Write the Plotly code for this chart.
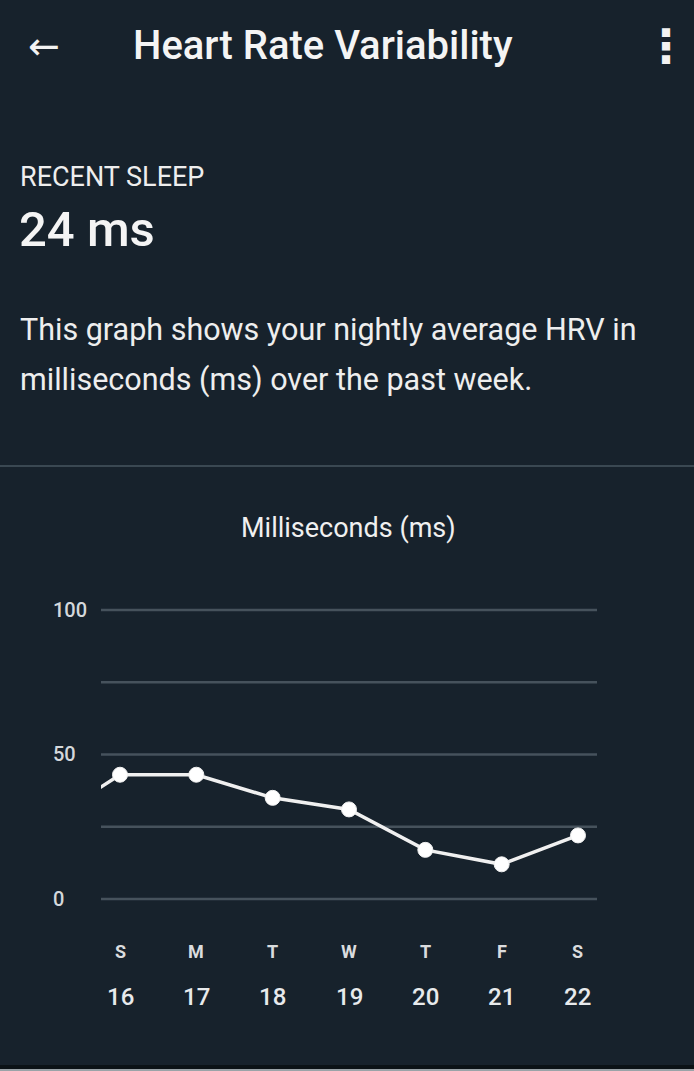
import plotly.graph_objects as go

# ---- data ----
days = [15, 16, 17, 18, 19, 20, 21, 22]
hrv_ms = [26, 43, 43, 35, 31, 17, 12, 22]
day_letters = ["S", "M", "T", "W", "T", "F", "S"]
day_numbers = [16, 17, 18, 19, 20, 21, 22]
y_tick_vals = [0, 50, 100]
grid_vals = [0, 25, 50, 75, 100]

W, H = 694, 1071
BG = "#17222c"
FONT = "Roboto"
PPU = (899 - 610) / 100.0  # pixels per ms unit
PAD = 2  # y padding units so edge gridlines are not clipped


def px(x):
    return x / W


def py(y):
    return 1 - y / H


fig = go.Figure()
fig.add_trace(go.Scatter(
    x=days, y=hrv_ms, mode="lines+markers",
    line=dict(color="#f0f0f0", width=3.5),
    marker=dict(size=15, color="#ffffff", line=dict(color="#f0f0f0", width=1)),
    cliponaxis=True, hoverinfo="skip", showlegend=False,
))

annotations = []
# header
annotations.append(dict(text="←", x=px(44), y=py(46), xref="paper", yref="paper",
                        showarrow=False, font=dict(family="DejaVu Sans", size=38, color="#f2f2f2"),
                        xanchor="center", yanchor="middle"))
annotations.append(dict(text="Heart Rate Variability", x=px(131), y=py(46), xref="paper", yref="paper",
                        showarrow=False, font=dict(family=FONT, size=40, color="#f4f4f4", weight=500),
                        xanchor="left", yanchor="middle"))
annotations.append(dict(text="⋮", x=px(666), y=py(46), xref="paper", yref="paper",
                        showarrow=False, font=dict(family="DejaVu Sans", size=46, color="#f2f2f2", weight="bold"),
                        xanchor="center", yanchor="middle"))
annotations.append(dict(text="RECENT SLEEP", x=px(18), y=py(177), xref="paper", yref="paper",
                        showarrow=False, font=dict(family=FONT, size=27, color="#eeeeee"),
                        xanchor="left", yanchor="middle"))
annotations.append(dict(text="24 ms", x=px(17), y=py(229), xref="paper", yref="paper",
                        showarrow=False, font=dict(family=FONT, size=49, color="#f4f4f4", weight=500),
                        xanchor="left", yanchor="middle"))
annotations.append(dict(text="This graph shows your nightly average HRV in", x=px(18), y=py(329), xref="paper", yref="paper",
                        showarrow=False, font=dict(family=FONT, size=30.5, color="#eeeeee"),
                        xanchor="left", yanchor="middle"))
annotations.append(dict(text="milliseconds (ms) over the past week.", x=px(18), y=py(380), xref="paper", yref="paper",
                        showarrow=False, font=dict(family=FONT, size=30.5, color="#eeeeee"),
                        xanchor="left", yanchor="middle"))
annotations.append(dict(text="Milliseconds (ms)", x=px(348), y=py(528), xref="paper", yref="paper",
                        showarrow=False, font=dict(family=FONT, size=27, color="#f0f0f0"),
                        xanchor="center", yanchor="middle"))
# y tick labels
for v in y_tick_vals:
    annotations.append(dict(text=str(v), x=px(51), y=v, xref="paper", yref="y",
                            showarrow=False, font=dict(family=FONT, size=20, color="#d4d8db", weight=500),
                            xanchor="left", yanchor="middle"))
# x labels
for letter, num in zip(day_letters, day_numbers):
    annotations.append(dict(text=letter, x=num, y=py(951), xref="x", yref="paper",
                            showarrow=False, font=dict(family=FONT, size=18, color="#dadcde", weight="bold"),
                            xanchor="center", yanchor="middle"))
    annotations.append(dict(text=str(num), x=num, y=py(997), xref="x", yref="paper",
                            showarrow=False, font=dict(family=FONT, size=24, color="#e8eaec", weight=500),
                            xanchor="center", yanchor="middle"))

shapes = [
    dict(type="line", xref="paper", yref="paper", x0=0, x1=1, y0=py(466), y1=py(466),
         line=dict(color="#3a4852", width=2)),
    dict(type="rect", xref="paper", yref="paper", x0=0, x1=1, y0=py(1069), y1=py(1065),
         line=dict(width=0), fillcolor="#0b1216"),
    dict(type="rect", xref="paper", yref="paper", x0=0, x1=1, y0=0, y1=py(1069),
         line=dict(width=0), fillcolor="#9aa3a8"),
]
for g in grid_vals:
    shapes.append(dict(type="line", xref="paper", yref="y", x0=px(101), x1=px(597), y0=g, y1=g,
                       line=dict(color="#46525c", width=2.5), layer="below"))

fig.update_layout(
    width=W, height=H,
    margin=dict(l=0, r=0, t=0, b=0, pad=0),
    paper_bgcolor=BG, plot_bgcolor=BG,
    xaxis=dict(domain=[px(101), px(597)], range=[15.751, 22.249], showgrid=False,
               zeroline=False, showticklabels=False, showline=False, fixedrange=True),
    yaxis=dict(domain=[py(899 + PAD * PPU), py(610 - PAD * PPU)], range=[-PAD, 100 + PAD], showgrid=False,
               zeroline=False, showticklabels=False, showline=False, fixedrange=True),
    annotations=annotations,
    shapes=shapes,
    showlegend=False,
)

fig.write_html("out.html", config={"displayModeBar": False},
               post_script="document.body.style.margin='0';document.body.style.padding='0';"
                           "document.body.style.overflow='hidden';")
